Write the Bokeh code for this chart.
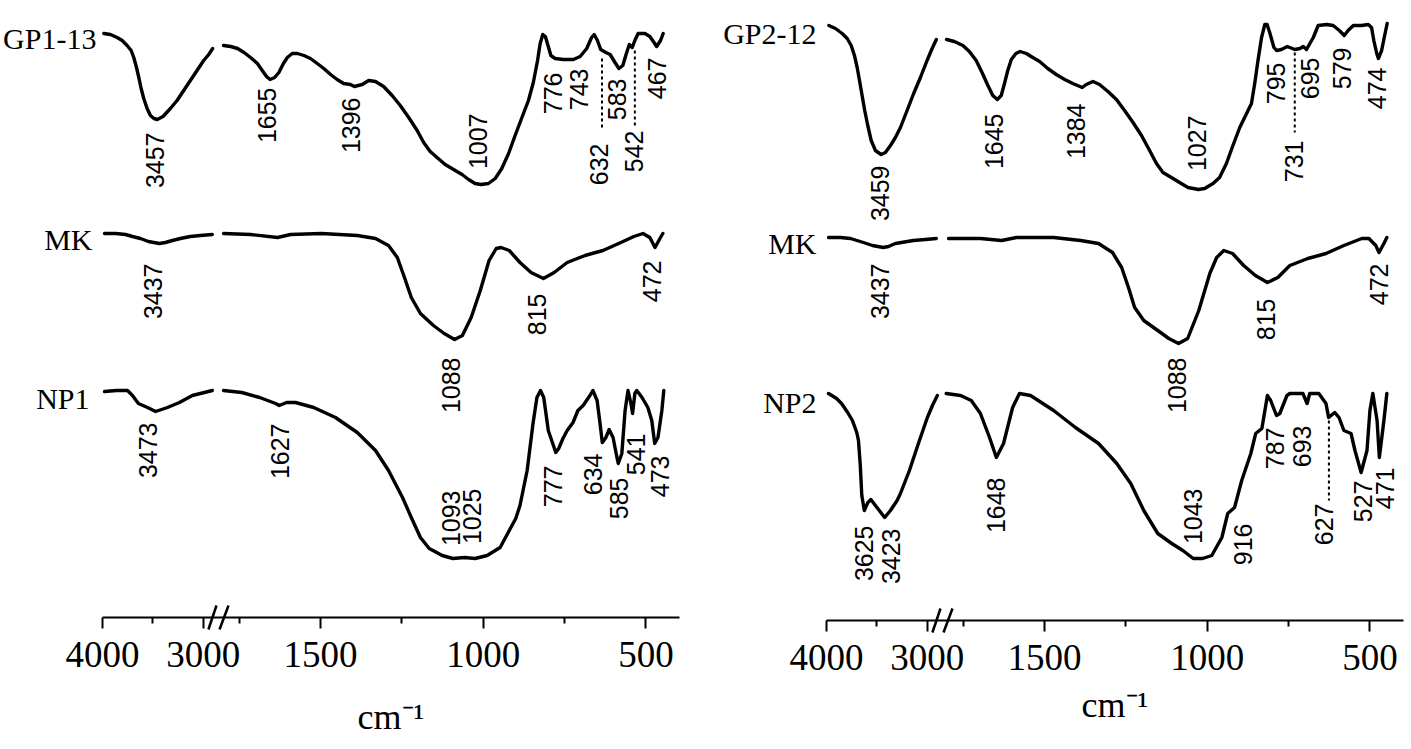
from math import pi

from bokeh.core.properties import value
from bokeh.embed import file_html
from bokeh.layouts import row
from bokeh.models import ColumnDataSource, FixedTicker, Range1d
from bokeh.plotting import figure
from bokeh.resources import INLINE

# Broken wavenumber axis: the low segment uses the main x range,
# the 4000-2900 segment uses an extra range with its own scale.
LO_START, LO_END = 2170, 396.8
HI_START, HI_END = 4000, -1720
AXIS_LEN = 577  # drawn length of the wavenumber axis, px

# ---------------- left panel: GP1-13, MK, NP1 ----------------
gp1_hi_wn = [3987, 3921, 3855, 3805, 3756, 3716, 3690, 3663, 3640, 3617, 3591, 3558,
             3525, 3490, 3457, 3400, 3327, 3261, 3195, 3129, 3063, 2997, 2947, 2908]
gp1_hi_t = [587, 586, 583, 580, 575, 570, 563, 553, 543, 532, 522, 512,
            505, 502, 501, 504, 512, 520, 530, 540, 550, 560, 566, 572]
gp1_lo_wn = [1798, 1776, 1755, 1735, 1715, 1694, 1679, 1666, 1655, 1641,
             1628, 1614, 1602, 1587, 1571, 1551, 1531, 1510, 1490, 1469,
             1449, 1429, 1408, 1396, 1372, 1352, 1331, 1306, 1280, 1255,
             1229, 1203, 1183, 1163, 1142, 1117, 1091, 1065, 1045, 1025,
             1007, 984, 963, 943, 922, 902, 881, 861, 846, 833,
             825, 817, 809, 801, 792, 779, 754, 723, 702, 682,
             667, 659, 649, 639, 623, 610, 595, 583, 571, 561,
             551, 542, 534, 524, 503, 488, 475, 467, 455, 447]
gp1_lo_t = [575, 574, 572, 568, 563, 557, 550, 544, 541, 543,
            548, 557, 563, 567, 567, 565, 562, 557, 552, 546,
            541, 537, 536, 534, 536, 540, 539, 534, 525, 515,
            503, 490, 478, 469, 463, 456, 451, 446, 441, 437,
            436, 437, 442, 452, 467, 485, 503, 520, 538, 560,
            577, 586, 584, 575, 565, 562, 561, 561, 564, 572,
            583, 586, 580, 571, 568, 566, 558, 552, 555, 566,
            576, 573, 580, 587, 587, 584, 578, 574, 580, 587]

mk1_hi_wn = [3980, 3871, 3772, 3703, 3624, 3545, 3437, 3376, 3307, 3228, 3129, 3030, 2911]
mk1_hi_t = [387, 387, 386, 384, 382, 379, 377, 378, 380, 382, 384, 385, 386]
mk1_lo_wn = [1798, 1715, 1632, 1592, 1497, 1387, 1331, 1291, 1264, 1242,
             1221, 1193, 1153, 1120, 1088, 1064, 1037, 1009, 982, 960,
             945, 920, 887, 853, 815, 782, 742, 687, 632, 577,
             537, 509, 488, 472, 457, 448]
mk1_lo_t = [387, 386, 383, 386, 387, 385, 382, 375, 363, 343,
            323, 307, 295, 287, 281, 285, 303, 330, 360, 372,
            373, 370, 358, 348, 342, 348, 358, 365, 370, 378,
            384, 387, 383, 373, 382, 387]

np1_hi_wn = [3980, 3861, 3752, 3703, 3644, 3554, 3473, 3356, 3238, 3109, 2911]
np1_hi_t = [229, 230, 230, 225, 217, 213, 209, 213, 218, 225, 230]
np1_lo_wn = [1798, 1742, 1687, 1638, 1627, 1604, 1577, 1521, 1454, 1387,
             1331, 1291, 1248, 1221, 1193, 1166, 1126, 1093, 1058, 1025,
             988, 948, 920, 900, 887, 865, 847, 835, 824, 814,
             800, 777, 768, 755, 742, 724, 709, 693, 672, 663,
             650, 641, 634, 623, 613, 601, 589, 585, 574, 564,
             555, 546, 541, 534, 528, 512, 494, 482, 473, 463,
             451, 445]
np1_lo_t = [230, 228, 223, 217, 215, 218, 218, 213, 203, 188,
            170, 150, 123, 103, 83, 72, 65, 62, 63, 62,
            65, 73, 90, 102, 115, 150, 197, 223, 230, 223,
            190, 168, 172, 182, 190, 198, 210, 215, 225, 230,
            220, 197, 178, 183, 191, 183, 163, 157, 167, 210,
            230, 217, 207, 227, 230, 223, 213, 200, 177, 183,
            210, 230]

left_peak_text = ["3457", "1655", "1396", "1007", "776", "743", "632", "583", "542", "467",
                  "3437", "1088", "815", "472",
                  "3473", "1627", "1093", "1025", "777", "634", "585", "541", "473"]
left_peak_wn = [3480, 1663, 1405, 1015, 785, 706, 644, 589, 537, 466,
                3495, 1098, 834, 482,
                3545, 1623, 1098, 1034, 785, 663, 583, 531, 457]
left_peak_top = [488, 533, 523, 507, 548, 552, 477, 542, 490, 563,
                 357, 263, 327, 360,
                 198, 197, 130, 132, 155, 167, 143, 187, 165]
left_peak_seg = ["hi", "lo", "lo", "lo", "lo", "lo", "lo", "lo", "lo", "lo",
                 "hi", "lo", "lo", "lo",
                 "hi", "lo", "lo", "lo", "lo", "lo", "lo", "lo", "lo"]
left_lead_wn = [635, 534]
left_lead_y0 = [562, 570]
left_lead_y1 = [490, 492]
left_names = ["GP1-13", "MK", "NP1"]
left_name_x = [4060, 4099, 4129]
left_name_y = [582, 381, 222]

# ---------------- right panel: GP2-12, MK, NP2 ----------------
gp2_hi_wn = [3977, 3911, 3845, 3795, 3755, 3723, 3696, 3673, 3647, 3621, 3591, 3557,
             3515, 3459, 3416, 3366, 3317, 3267, 3201, 3136, 3069, 3003, 2953, 2911]
gp2_hi_t = [595, 592, 587, 582, 575, 565, 553, 540, 525, 510, 495, 480,
            470, 466, 468, 475, 483, 493, 510, 527, 543, 560, 572, 581]
gp2_lo_wn = [1801, 1777, 1751, 1731, 1710, 1692, 1674, 1659, 1645, 1633,
             1623, 1613, 1602, 1588, 1575, 1556, 1536, 1515, 1490, 1464,
             1438, 1413, 1384, 1372, 1351, 1331, 1305, 1279, 1254, 1228,
             1202, 1177, 1156, 1136, 1110, 1085, 1059, 1027, 1008, 982,
             962, 941, 921, 900, 879, 864, 854, 844, 833, 823,
             816, 808, 795, 787, 772, 754, 731, 715, 705, 695,
             674, 659, 633, 613, 594, 579, 567, 551, 526, 505,
             495, 488, 479, 474, 464, 456, 447]
gp2_lo_t = [581, 579, 575, 569, 560, 548, 535, 525, 521, 525,
            537, 550, 561, 567, 569, 567, 563, 559, 552, 546,
            541, 537, 533, 536, 539, 536, 529, 521, 510, 498,
            485, 470, 457, 448, 443, 438, 433, 431, 432, 437,
            443, 457, 475, 493, 507, 517, 537, 560, 583, 596,
            596, 588, 573, 570, 571, 574, 571, 572, 574, 571,
            583, 595, 596, 595, 590, 585, 590, 595, 595, 596,
            593, 580, 567, 562, 570, 583, 597]

mk2_hi_wn = [3980, 3861, 3762, 3634, 3545, 3437, 3386, 3317, 3139, 3020, 2911]
mk2_hi_t = [383, 383, 382, 378, 375, 373, 374, 377, 380, 381, 382]
mk2_lo_wn = [1795, 1697, 1632, 1586, 1472, 1389, 1334, 1291, 1263, 1242,
             1223, 1195, 1152, 1118, 1088, 1060, 1026, 992, 971, 949,
             922, 888, 852, 815, 783, 746, 691, 635, 580, 525,
             503, 482, 472, 457, 448]
mk2_lo_t = [382, 382, 380, 383, 383, 380, 377, 368, 353, 333,
            313, 300, 290, 282, 277, 282, 310, 347, 363, 370,
            367, 355, 345, 338, 343, 355, 362, 367, 375, 382,
            382, 375, 368, 377, 383]

np2_hi_wn = [3980, 3900, 3851, 3790, 3743, 3700, 3683, 3665, 3650, 3625, 3590,
             3560, 3500, 3423, 3366, 3300, 3267, 3178, 3089, 3000, 2950, 2901]
np2_hi_t = [227, 222, 217, 208, 200, 188, 180, 155, 125, 110, 118,
            121, 113, 103, 110, 120, 127, 150, 177, 203, 215, 225]
np2_lo_wn = [1802, 1758, 1725, 1697, 1669, 1648, 1626, 1598, 1577, 1543,
             1472, 1405, 1334, 1278, 1235, 1195, 1152, 1109, 1075, 1043,
             1014, 986, 955, 937, 916, 894, 866, 851, 832, 815,
             805, 787, 777, 755, 746, 706, 693, 685, 657, 635,
             627, 608, 595, 580, 558, 546, 527, 509, 500, 491,
             478, 471, 457, 448]
np2_lo_t = [227, 225, 220, 207, 183, 163, 177, 213, 227, 225,
            210, 193, 177, 157, 137, 110, 87, 77, 70, 62,
            62, 65, 83, 107, 113, 140, 167, 187, 192, 225,
            220, 205, 207, 225, 227, 227, 217, 227, 227, 217,
            203, 208, 203, 190, 187, 170, 148, 170, 210, 227,
            200, 163, 200, 227]

right_peak_text = ["3459", "1645", "1384", "1027", "795", "731", "695", "579", "474",
                   "3437", "1088", "815", "472",
                   "3625", "3423", "1648", "1043", "916", "787", "693", "627", "527", "471"]
right_peak_wn = [3465, 1654, 1402, 1032, 789, 734, 685, 586, 478,
                 3465, 1094, 820, 472,
                 3624, 3356, 1648, 1045, 891, 792, 709, 640, 522, 454]
right_peak_top = [455, 507, 517, 505, 558, 480, 563, 573, 553,
                  357, 263, 322, 357,
                  95, 92, 143, 132, 97, 193, 195, 117, 140, 153]
right_peak_seg = ["hi", "lo", "lo", "lo", "lo", "lo", "lo", "lo", "lo",
                  "hi", "lo", "lo", "lo",
                  "hi", "hi", "lo", "lo", "lo", "lo", "lo", "lo", "lo", "lo"]
right_lead_wn = [731, 626]
right_lead_y0 = [568, 200]
right_lead_y1 = [488, 120]
right_names = ["GP2-12", "MK", "NP2"]
right_name_x = [4099, 4099, 4099]
right_name_y = [587, 377, 218]

MAJOR_WN = [4000, 3000, 1500, 1000, 500]
MINOR_WN = [3500, 1750, 1250, 750]
BREAK_X = [(2950, 2870), (2840, 2751)]

S_LO = AXIS_LEN / (LO_START - LO_END)   # px per cm-1, low segment
S_HI = AXIS_LEN / (HI_START - HI_END)   # px per cm-1, high segment


def hi_to_lo(v):
    return int(round(LO_START - (HI_START - v) * S_HI / S_LO))


def panel(traces, peaks, leads, names, name_x, name_y, axis_y, axis_left, width,
          label_standoff):
    right_px = width - axis_left
    x_range = Range1d(LO_START + axis_left / S_LO, LO_START - right_px / S_LO)
    hi_range = Range1d(HI_START + axis_left / S_HI, HI_START - right_px / S_HI)
    p = figure(width=width, height=749, x_range=x_range, y_range=Range1d(-129, 620),
               output_backend="svg", toolbar_location=None,
               min_border_left=0, min_border_right=0,
               min_border_top=0, min_border_bottom=0)
    p.extra_x_ranges = {"hi": hi_range}
    p.xgrid.visible = False
    p.ygrid.visible = False
    p.yaxis.visible = False
    p.outline_line_color = None
    p.background_fill_color = "white"
    p.border_fill_color = "white"

    ax = p.xaxis[0]
    ax.fixed_location = axis_y
    ax.bounds = (LO_START, LO_END)
    major = [hi_to_lo(v) if v > 2000 else v for v in MAJOR_WN]
    minor = [hi_to_lo(v) if v > 2000 else v for v in MINOR_WN]
    ax.ticker = FixedTicker(ticks=major, minor_ticks=minor)
    ax.major_label_overrides = {hi_to_lo(4000): "4000", hi_to_lo(3000): "3000"}
    ax.axis_line_width = 2
    ax.axis_line_color = "black"
    ax.major_tick_line_width = 2
    ax.major_tick_out = 11
    ax.major_tick_in = 0
    ax.minor_tick_line_width = 2
    ax.minor_tick_out = 6
    ax.minor_tick_in = 0
    ax.major_label_text_font = "Liberation Serif"
    ax.major_label_text_font_size = "37px"
    ax.major_label_text_color = "black"
    ax.major_label_standoff = 13
    ax.axis_label = "cm\u207b\u00b9"
    ax.axis_label_text_font = "Liberation Serif"
    ax.axis_label_text_font_size = "36px"
    ax.axis_label_text_font_style = "normal"
    ax.axis_label_text_color = "black"
    ax.axis_label_standoff = label_standoff

    for hw, ht, lw, lt in traces:
        p.line(hw, ht, x_range_name="hi", line_width=3.4, color="black",
               line_join="round", line_cap="round")
        p.line(lw, lt, line_width=3.4, color="black",
               line_join="round", line_cap="round")

    text, wn, top, seg = peaks
    for s in ("hi", "lo"):
        idx = [i for i, v in enumerate(seg) if v == s]
        src = ColumnDataSource(dict(x=[wn[i] for i in idx], y=[top[i] for i in idx],
                                    text=[text[i] for i in idx]))
        kw = {"x_range_name": "hi"} if s == "hi" else {}
        p.text(x="x", y="y", text="text", source=src, angle=pi / 2,
               text_align="right", text_baseline="middle",
               text_font=value("Liberation Sans"), text_font_size=value("25px"),
               text_color="black", **kw)

    lx, ly0, ly1 = leads
    p.segment(x0=lx, y0=ly0, x1=lx, y1=ly1, line_dash="3 3", line_width=2,
              color="black")

    p.text(x=name_x, y=name_y, text=names, x_range_name="hi",
           text_align="right", text_baseline="alphabetic",
           text_font=value("Liberation Serif"), text_font_size=value("30px"),
           text_color="black")

    # axis break marks
    p.segment(x0=[b[0] for b in BREAK_X], y0=[axis_y - 12] * 2,
              x1=[b[1] for b in BREAK_X], y1=[axis_y + 12] * 2,
              x_range_name="hi", line_width=2.5, color="black")
    return p


left = panel(
    [(gp1_hi_wn, gp1_hi_t, gp1_lo_wn, gp1_lo_t),
     (mk1_hi_wn, mk1_hi_t, mk1_lo_wn, mk1_lo_t),
     (np1_hi_wn, np1_hi_t, np1_lo_wn, np1_lo_t)],
    (left_peak_text, left_peak_wn, left_peak_top, left_peak_seg),
    (left_lead_wn, left_lead_y0, left_lead_y1),
    left_names, left_name_x, left_name_y, 3, 102, 700, 27)

right = panel(
    [(gp2_hi_wn, gp2_hi_t, gp2_lo_wn, gp2_lo_t),
     (mk2_hi_wn, mk2_hi_t, mk2_lo_wn, mk2_lo_t),
     (np2_hi_wn, np2_hi_t, np2_lo_wn, np2_lo_t)],
    (right_peak_text, right_peak_wn, right_peak_top, right_peak_seg),
    (right_lead_wn, right_lead_y0, right_lead_y1),
    right_names, right_name_x, right_name_y, 0, 126, 711, 12)

layout = row(left, right)
open("out.html", "w").write(file_html(layout, INLINE))
